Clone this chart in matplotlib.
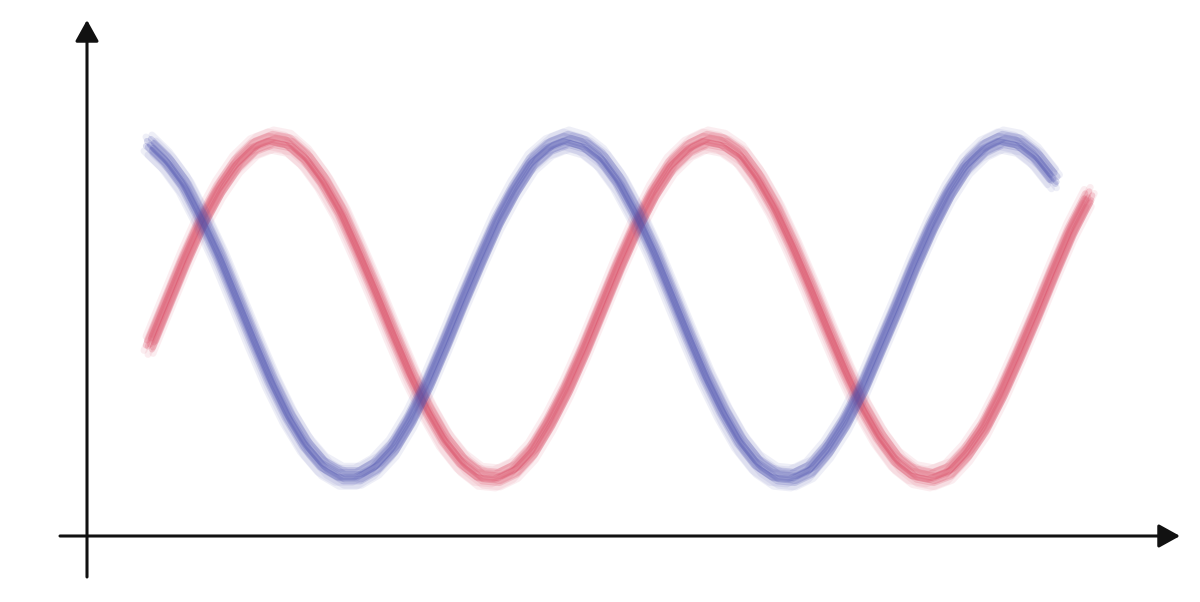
import numpy as np
import matplotlib
matplotlib.use("Agg")
import matplotlib.pyplot as plt
from matplotlib.transforms import offset_copy

step = 0.25
blue_y = [0.97, 0.87, 0.73, 0.53, 0.31, 0.06, -0.19, -0.43, -0.64, -0.81,
          -0.93, -0.99, -0.99, -0.93, -0.82, -0.65, -0.44, -0.20, 0.05, 0.29,
          0.52, 0.71, 0.87, 0.96, 1.00, 0.97, 0.89, 0.75, 0.56, 0.34,
          0.09, -0.16, -0.40, -0.61, -0.79, -0.92, -0.99, -1.00, -0.95, -0.83,
          -0.67, -0.47, -0.23, 0.01, 0.26, 0.49, 0.69, 0.85, 0.95, 1.00,
          0.98, 0.90, 0.77]
red_y = [-0.21, 0.04, 0.29, 0.52, 0.71, 0.86, 0.96, 1.00, 0.98, 0.89,
         0.75, 0.57, 0.34, 0.10, -0.15, -0.39, -0.60, -0.78, -0.91, -0.99,
         -1.00, -0.95, -0.84, -0.67, -0.47, -0.24, 0.01, 0.26, 0.49, 0.69,
         0.85, 0.95, 1.00, 0.98, 0.91, 0.77, 0.59, 0.37, 0.13, -0.12,
         -0.36, -0.58, -0.76, -0.90, -0.98, -1.00, -0.96, -0.85, -0.70, -0.50,
         -0.27, -0.03, 0.22, 0.46, 0.66]
blue_x = np.arange(len(blue_y)) * step
red_x = np.arange(len(red_y)) * step

blue_col = '#4a4fae'
red_col = '#d8405a'

# each curve is drawn as a bundle of faint, slightly shifted strokes
outer = [(-4, 8), (3, -9), (6, 4), (-6, -6), (2, 10), (-2, -10)]
inner = [(-3, 4), (2, -5), (0, 0), (4, 2), (-2, -2), (1, 6), (-4, -1), (3, -3)]

fig = plt.figure(figsize=(12, 6.02), dpi=100)
ax = fig.add_axes([0, 0, 1, 1])
ax.set_xlim(-2.158, 15.108)
ax.set_ylim(-1.734, 1.828)
ax.axis('off')

for xs, ys, col in [(red_x, red_y, red_col), (blue_x, blue_y, blue_col)]:
    for dx, dy in outer:
        tr = offset_copy(ax.transData, fig=fig, x=dx, y=dy, units='dots')
        ax.plot(xs, ys, color=col, lw=5, alpha=0.09, solid_capstyle='round',
                solid_joinstyle='round', transform=tr)
    for dx, dy in inner:
        tr = offset_copy(ax.transData, fig=fig, x=dx, y=dy, units='dots')
        ax.plot(xs, ys, color=col, lw=4.5, alpha=0.2, solid_capstyle='round',
                solid_joinstyle='round', transform=tr)

# hand-drawn style axes with arrow heads
arrow = dict(arrowstyle='-|>,head_length=1.3,head_width=0.72', mutation_scale=10,
             lw=2.2, color='#111111', shrinkA=0, shrinkB=0)
ax.annotate('', xy=(87 / 1200, 1 - 20 / 602), xytext=(87 / 1200, 1 - 577 / 602),
            xycoords='axes fraction', arrowprops=arrow)
ax.annotate('', xy=(1180 / 1200, 1 - 536 / 602), xytext=(60 / 1200, 1 - 536 / 602),
            xycoords='axes fraction', arrowprops=arrow)

fig.savefig('out.png', dpi=100, facecolor='white')
